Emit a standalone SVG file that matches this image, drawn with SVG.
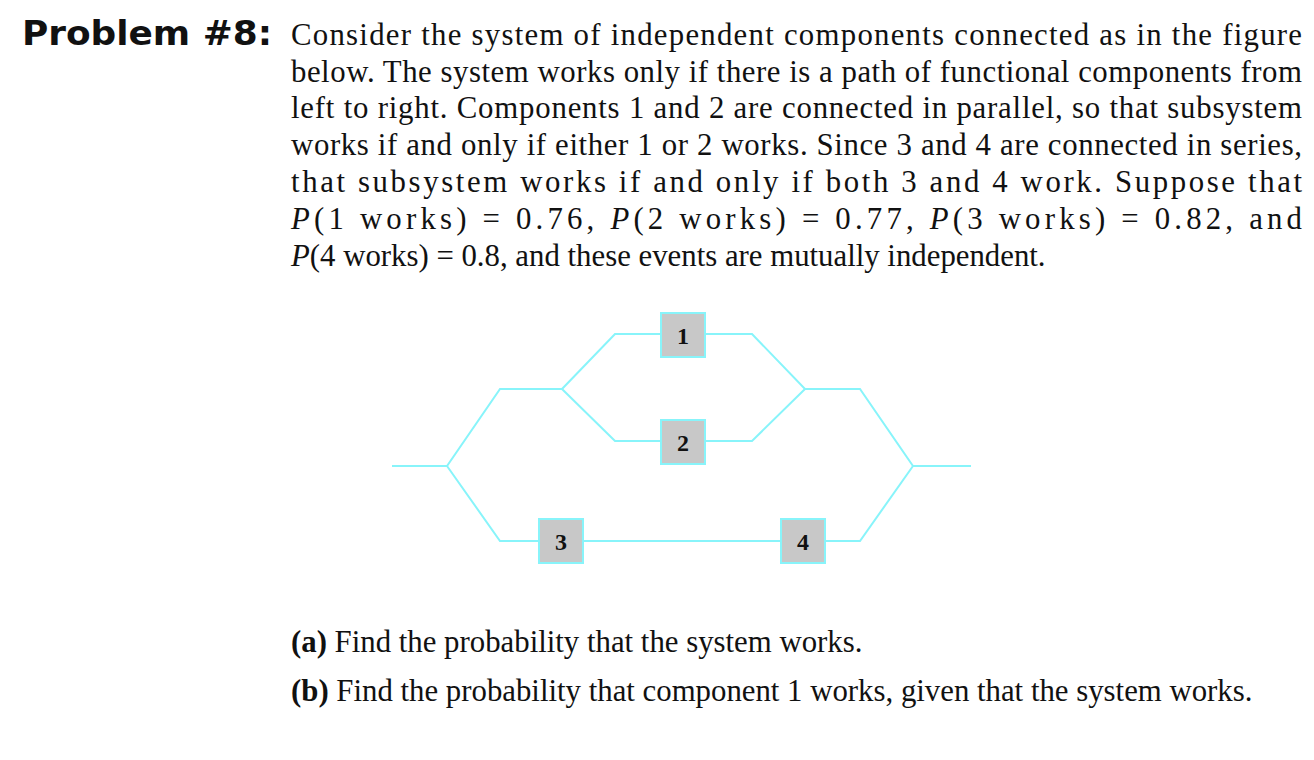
<svg xmlns="http://www.w3.org/2000/svg" width="1314" height="760" viewBox="0 0 1314 760">
<style>
.t{font-family:"Liberation Serif",serif;font-size:30.8px;fill:#111}
.i{font-style:italic}
.b{font-weight:bold}
.w{fill:none;stroke:#88f4fa;stroke-width:2}
.box rect{fill:#c8c8c8;stroke:#88f4fa;stroke-width:2}
.box text{font-family:"Liberation Serif",serif;font-weight:bold;font-size:24px;text-anchor:middle;fill:#111}
</style>
<rect width="1314" height="760" fill="#fff"/>
<text x="22" y="45" font-family="'DejaVu Sans',sans-serif" font-weight="bold" font-size="34" textLength="250" lengthAdjust="spacingAndGlyphs" fill="#111">Problem #8:</text>
<text class="t" x="291" y="45" textLength="1011" lengthAdjust="spacing">Consider the system of independent components connected as in the figure</text>
<text class="t" x="291" y="82" textLength="1011" lengthAdjust="spacing">below. The system works only if there is a path of functional components from</text>
<text class="t" x="291" y="118" textLength="1011" lengthAdjust="spacing">left to right. Components 1 and 2 are connected in parallel, so that subsystem</text>
<text class="t" x="291" y="155" textLength="1011" lengthAdjust="spacing">works if and only if either 1 or 2 works. Since 3 and 4 are connected in series,</text>
<text class="t" x="291" y="192" textLength="1011" lengthAdjust="spacing">that subsystem works if and only if both 3 and 4 work. Suppose that</text>
<text class="t" x="291" y="229" textLength="1011" lengthAdjust="spacing"><tspan class="i">P</tspan>(1 works) = 0.76, <tspan class="i">P</tspan>(2 works) = 0.77, <tspan class="i">P</tspan>(3 works) = 0.82, and</text>
<text class="t" x="291" y="266"><tspan class="i">P</tspan>(4 works) = 0.8, and these events are mutually independent.</text>
<text class="t" x="291" y="652"><tspan class="b">(a)</tspan> Find the probability that the system works.</text>
<text class="t" x="291" y="701"><tspan class="b">(b)</tspan> Find the probability that component 1 works, given that the system works.</text>
<g id="connectors" class="w">
<polyline points="392,466 447,466 500,389 562,389"/>
<polyline points="562,389 615,334 661,334"/>
<polyline points="705,334 752,334 805,389 860,389 913,466 971,466"/>
<polyline points="562,389 615,441 661,441"/>
<polyline points="705,441 752,441 805,389"/>
<polyline points="447,466 500,541 539,541"/>
<polyline points="583,541 780,541"/>
<polyline points="825,541 860,541 913,466"/>
</g>
<g id="n1" class="box"><rect x="661" y="313" width="44" height="44"/><text x="683" y="344">1</text></g>
<g id="n2" class="box"><rect x="661" y="420" width="44" height="44"/><text x="683" y="451">2</text></g>
<g id="n3" class="box"><rect x="539" y="519" width="44" height="44"/><text x="561" y="550">3</text></g>
<g id="n4" class="box"><rect x="781" y="519" width="44" height="44"/><text x="803" y="550">4</text></g>
</svg>
